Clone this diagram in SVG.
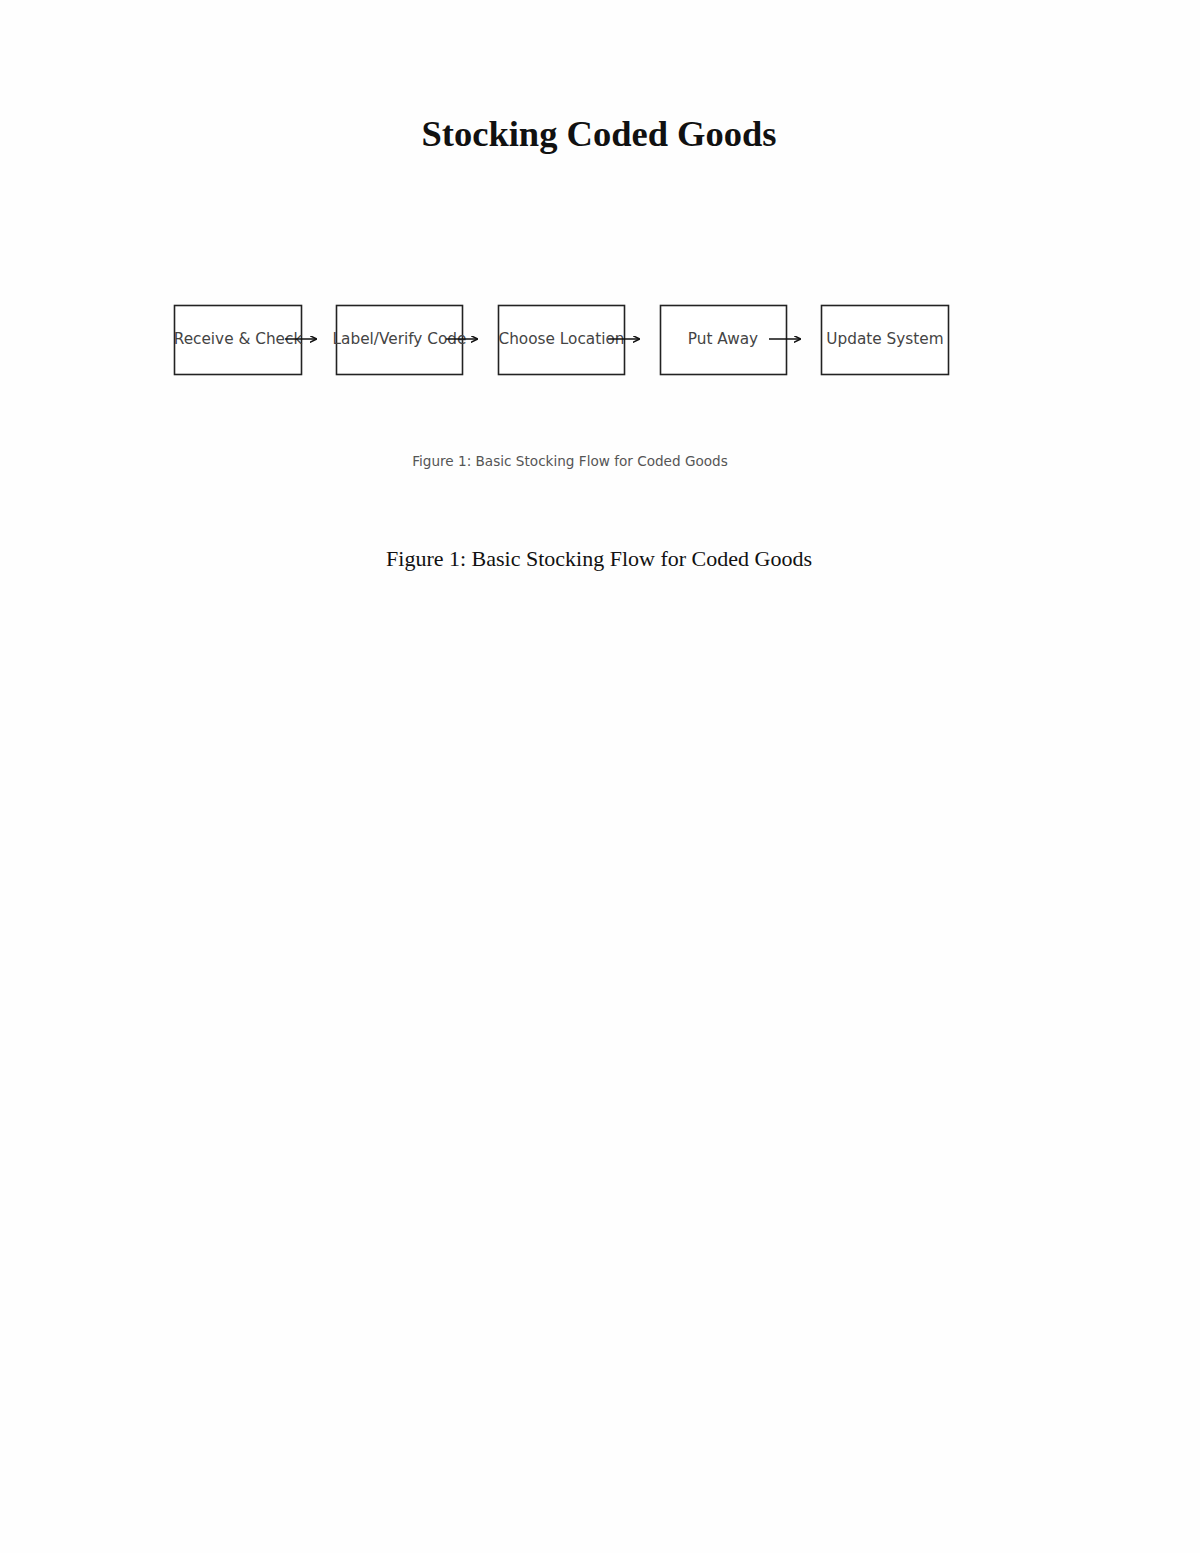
<svg xmlns="http://www.w3.org/2000/svg" width="1200" height="1553" viewBox="0 0 1200 1553">
<style>
.box{fill:#fff;stroke:#222;stroke-width:1.6}
.lbl{font-family:"DejaVu Sans",sans-serif;font-size:15.3px;fill:#444;text-anchor:middle}
.conn{stroke:#111;stroke-width:1.5;fill:none}
</style>
<defs>
<marker id="ah" viewBox="0 0 10 10" refX="9" refY="5" markerWidth="7" markerHeight="7" orient="auto" markerUnits="userSpaceOnUse">
<path d="M0,0 L10,5 L0,10" fill="none" stroke="#111" stroke-width="2"/>
</marker>
</defs>
<rect width="1200" height="1553" fill="#fefefe"/>
<text x="599" y="146" font-family="Liberation Serif,serif" font-weight="bold" font-size="36.5" text-anchor="middle" fill="#111">Stocking Coded Goods</text>
<g id="n1"><rect class="box" x="174.5" y="305.5" width="127" height="69"/><text class="lbl" x="238" y="344">Receive &amp; Check</text></g>
<g id="n2"><rect class="box" x="336.5" y="305.5" width="126" height="69"/><text class="lbl" x="399.5" y="344">Label/Verify Code</text></g>
<g id="n3"><rect class="box" x="498.5" y="305.5" width="126" height="69"/><text class="lbl" x="561.5" y="344">Choose Location</text></g>
<g id="n4"><rect class="box" x="660.5" y="305.5" width="126" height="69"/><text class="lbl" x="723" y="344">Put Away</text></g>
<g id="n5"><rect class="box" x="821.5" y="305.5" width="127" height="69"/><text class="lbl" x="885" y="344">Update System</text></g>
<g id="connectors">
<line class="conn" x1="285" y1="339" x2="316" y2="339" marker-end="url(#ah)"/>
<line class="conn" x1="446" y1="339" x2="477" y2="339" marker-end="url(#ah)"/>
<line class="conn" x1="608" y1="339" x2="639" y2="339" marker-end="url(#ah)"/>
<line class="conn" x1="769" y1="339" x2="800" y2="339" marker-end="url(#ah)"/>
</g>
<text x="570" y="466" font-family="DejaVu Sans,sans-serif" font-size="13.6" text-anchor="middle" fill="#555">Figure 1: Basic Stocking Flow for Coded Goods</text>
<text x="599" y="566" font-family="Liberation Serif,serif" font-size="22" text-anchor="middle" fill="#111">Figure 1: Basic Stocking Flow for Coded Goods</text>
</svg>
